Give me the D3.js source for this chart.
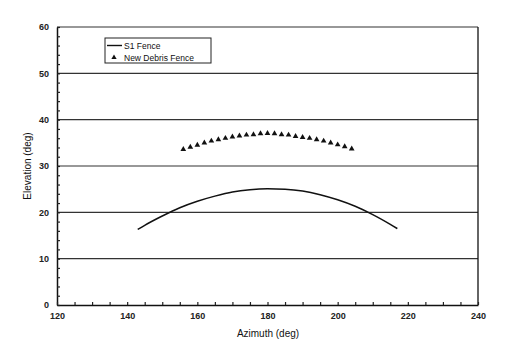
<!DOCTYPE html>
<html><head><meta charset="utf-8">
<script src="https://cdn.jsdelivr.net/npm/d3@7"></script>
<style>body{margin:0;background:#fff}text{font-family:"Liberation Sans",Arial,sans-serif}</style>
</head><body><svg id="c" width="506" height="348"></svg>
<script>
const s1Az = [143,145,150,155,160,165,170,175,180,185,190,195,200,205,210,215,217];
const s1El = [16.3,17.2,19.2,21.0,22.4,23.5,24.4,24.9,25.1,25.0,24.6,23.8,22.7,21.3,19.5,17.4,16.5];
const debrisAz = [156,158,160,162,164,166,168,170,172,174,176,178,180,182,184,186,188,190,192,194,196,198,200,202,204];
const debrisEl = [33.6,34.1,34.5,35.0,35.4,35.7,36.0,36.3,36.5,36.7,36.8,37.0,37.05,37.0,36.8,36.7,36.4,36.2,36.0,35.7,35.4,35.0,34.6,34.2,33.7];
const xTicks = [120,140,160,180,200,220,240];
const yTicks = [0,10,20,30,40,50,60];
const seriesNames = ["S1 Fence","New Debris Fence"];

const svg = d3.select("#c");
const L=57,R=478,T=27,B=305;
const x = d3.scaleLinear().domain([120,240]).range([L,R]);
const y = d3.scaleLinear().domain([0,60]).range([B,T]);

// gridlines
svg.append("g").selectAll("line").data(yTicks.filter(d=>d>0)).join("line")
  .attr("x1",L).attr("x2",R).attr("y1",d=>y(d)).attr("y2",d=>y(d))
  .attr("stroke","#333").attr("stroke-width",1.2);
// right border
svg.append("line").attr("x1",R).attr("x2",R).attr("y1",T).attr("y2",B).attr("stroke","#111").attr("stroke-width",1.3);

// axes
const xAx = svg.append("g").attr("transform",`translate(0,${B})`)
  .call(d3.axisBottom(x).tickValues(xTicks).tickSize(0).tickPadding(8).tickFormat(d3.format("d")));
const yAx = svg.append("g").attr("transform",`translate(${L},0)`)
  .call(d3.axisLeft(y).tickValues(yTicks).tickSize(0).tickPadding(8).tickFormat(d3.format("d")));
[xAx,yAx].forEach(g=>{
  g.select(".domain").attr("stroke","#111").attr("stroke-width",1.5);
  g.selectAll("text").attr("font-size",9).attr("font-weight","bold").attr("fill","#222");
});
// minor ticks
svg.append("g").attr("transform",`translate(0,${B})`)
  .call(d3.axisBottom(x).tickValues(d3.range(120,241,5)).tickSize(-3).tickFormat(""))
  .call(g=>{g.select(".domain").remove();g.selectAll("line").attr("stroke","#222").attr("stroke-width",1.2);});
svg.append("g").attr("transform",`translate(${L},0)`)
  .call(d3.axisLeft(y).tickValues(d3.range(0,61,2)).tickSize(-3).tickFormat(""))
  .call(g=>{g.select(".domain").remove();g.selectAll("line").attr("stroke","#222").attr("stroke-width",1.2);});

// S1 Fence curve
const s1 = s1Az.map((a,i)=>[a,s1El[i]]);
svg.append("path").datum(s1)
  .attr("d",d3.line().x(d=>x(d[0])).y(d=>y(d[1])).curve(d3.curveMonotoneX))
  .attr("fill","none").attr("stroke","#111").attr("stroke-width",1.5);

// Debris triangles
const tri = d3.symbol().type(d3.symbolTriangle).size(14);
svg.append("g").selectAll("path").data(debrisAz.map((a,i)=>[a,debrisEl[i]])).join("path")
  .attr("d",tri).attr("transform",d=>`translate(${x(d[0])},${y(d[1])})`).attr("fill","#111");

// axis titles
svg.append("text").attr("x",268).attr("y",337).attr("text-anchor","middle")
  .attr("font-size",10).attr("fill","#111").text("Azimuth (deg)");
svg.append("text").attr("transform","translate(31,166) rotate(-90)").attr("text-anchor","middle")
  .attr("font-size",10).attr("fill","#111").text("Elevation (deg)");

// legend
const lg = svg.append("g");
lg.append("rect").attr("x",105).attr("y",38).attr("width",106).attr("height",25)
  .attr("fill","#fff").attr("stroke","#222").attr("stroke-width",1);
lg.append("line").attr("x1",107).attr("x2",122).attr("y1",45.5).attr("y2",45.5).attr("stroke","#111").attr("stroke-width",1.4);
lg.append("path").attr("d",d3.symbol().type(d3.symbolTriangle).size(12)).attr("transform","translate(114,57.5)").attr("fill","#111");
lg.append("text").attr("x",124).attr("y",49).attr("font-size",8.5).attr("fill","#111").text(seriesNames[0]);
lg.append("text").attr("x",124).attr("y",61).attr("font-size",8.5).attr("fill","#111").text(seriesNames[1]);
</script></body></html>
